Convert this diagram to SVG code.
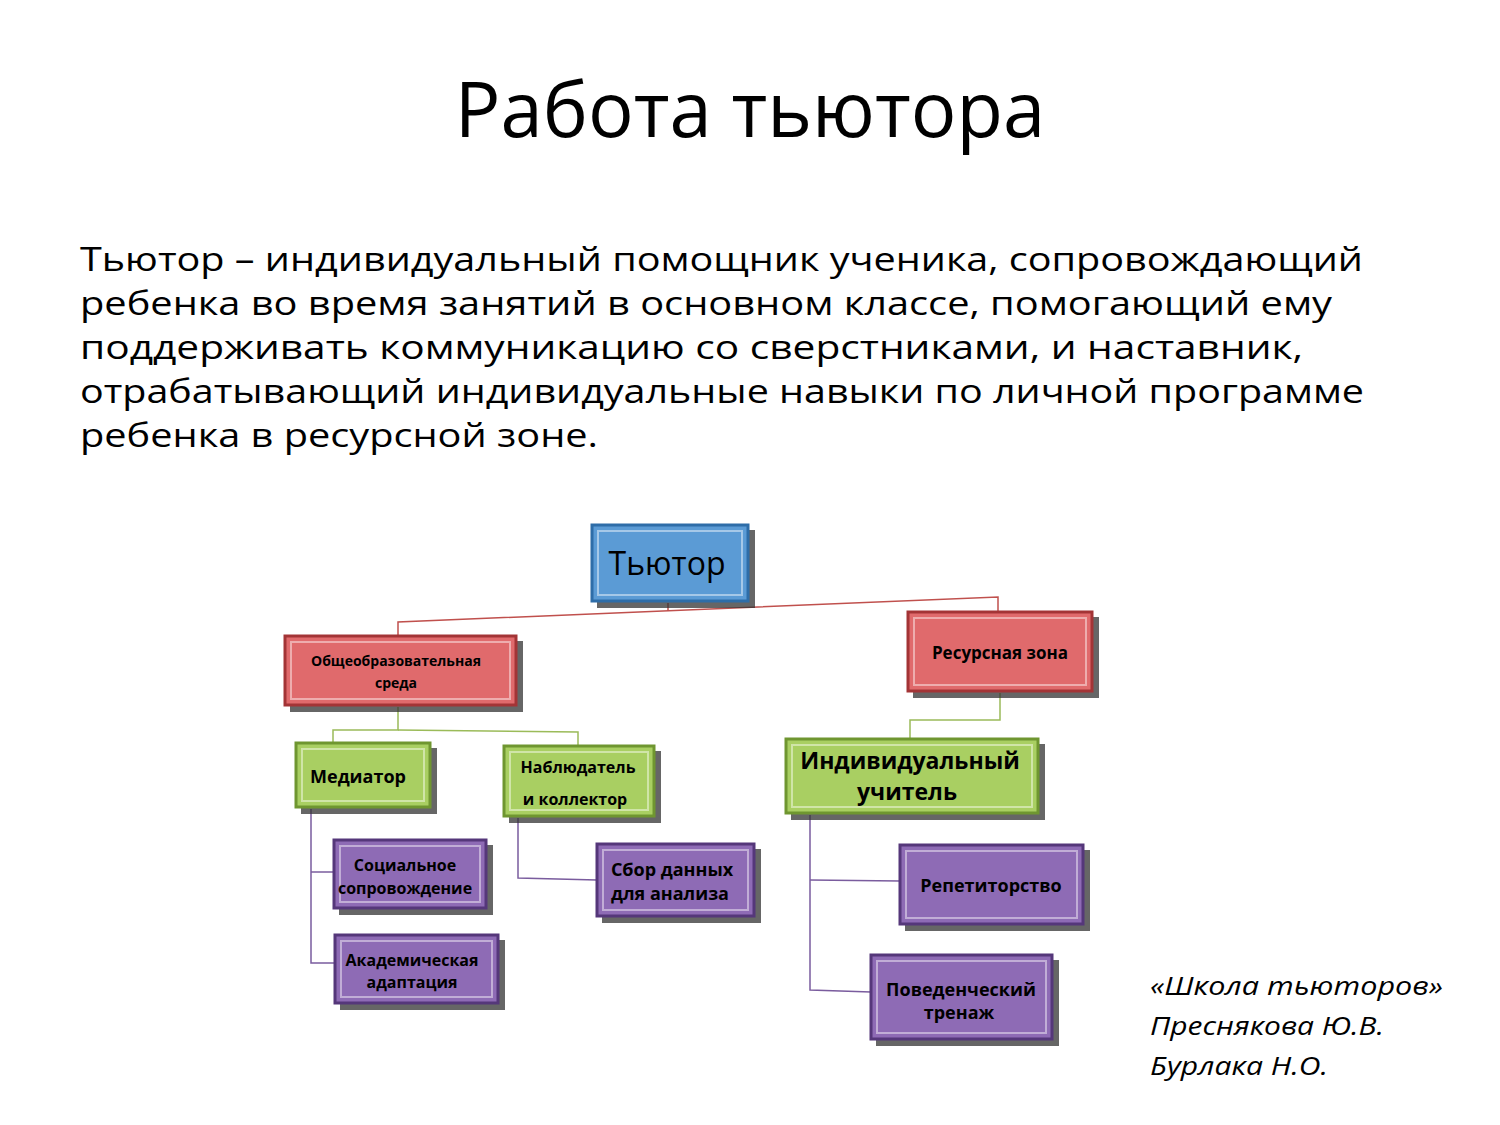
<svg xmlns="http://www.w3.org/2000/svg" width="1500" height="1125" viewBox="0 0 1500 1125">
<style>
text{font-family:"Open Sans","Liberation Sans",sans-serif;fill:#000}
.b{font-weight:bold;text-anchor:middle}
.sh{fill:#333;opacity:.75}
.in{fill:none;stroke:#fff;stroke-opacity:.45;stroke-width:2}
.blue{fill:#5B9BD5;stroke:#2E6DA8;stroke-width:3}
.red{fill:#E06A6C;stroke:#A33436;stroke-width:3}
.green{fill:#A9CF62;stroke:#6F9630;stroke-width:3}
.purple{fill:#8E6BB5;stroke:#55377A;stroke-width:3}
.c{fill:none;stroke-width:1.5}
</style>
<rect width="1500" height="1125" fill="#fff"/>
<text x="750" y="137" font-size="76" text-anchor="middle">Работа тьютора</text>
<g font-size="33">
<text x="80" y="271" textLength="1283" lengthAdjust="spacingAndGlyphs">Тьютор – индивидуальный помощник ученика, сопровождающий</text>
<text x="80" y="315" textLength="1252" lengthAdjust="spacingAndGlyphs">ребенка во время занятий в основном классе, помогающий ему</text>
<text x="80" y="359" textLength="1223" lengthAdjust="spacingAndGlyphs">поддерживать коммуникацию  со сверстниками, и наставник,</text>
<text x="80" y="403" textLength="1284" lengthAdjust="spacingAndGlyphs">отрабатывающий индивидуальные навыки по личной программе</text>
<text x="80" y="447" textLength="518" lengthAdjust="spacingAndGlyphs">ребенка в ресурсной зоне.</text>
</g>
<g id="connectors">
<polyline class="c" stroke="#C0504D" points="668,603 668,611"/>
<polyline class="c" stroke="#C0504D" points="398,636 398,622 998,597 998,612"/>
<polyline class="c" stroke="#9BBB59" points="398,707 398,730 333,730 333,743"/>
<polyline class="c" stroke="#9BBB59" points="398,730 578,732 578,746"/>
<polyline class="c" stroke="#9BBB59" points="1000,693 1000,720 910,720 910,739"/>
<polyline class="c" stroke="#7A5C9E" points="311,809 311,963 334,963"/>
<line class="c" stroke="#7A5C9E" x1="311" y1="872" x2="334" y2="872"/>
<polyline class="c" stroke="#7A5C9E" points="518,818 518,878 597,880"/>
<polyline class="c" stroke="#7A5C9E" points="810,815 810,990 871,992"/>
<line class="c" stroke="#7A5C9E" x1="810" y1="880" x2="900" y2="881"/>
</g>
<g id="n1"><rect class="sh" x="597" y="530" width="158" height="78"/><rect class="blue" x="592" y="525" width="156" height="76"/><rect class="in" x="598" y="531" width="144" height="64"/><text x="667" y="575" font-size="32" text-anchor="middle">Тьютор</text></g>
<g id="n2"><rect class="sh" x="290" y="641" width="233" height="71"/><rect class="red" x="285" y="636" width="231" height="69"/><rect class="in" x="291" y="642" width="219" height="57"/><text class="b" x="396" y="666" font-size="14">Общеобразовательная</text><text class="b" x="396" y="688" font-size="14">среда</text></g>
<g id="n3"><rect class="sh" x="913" y="617" width="186" height="81"/><rect class="red" x="908" y="612" width="184" height="79"/><rect class="in" x="914" y="618" width="172" height="67"/><text class="b" x="1000" y="659" font-size="17">Ресурсная зона</text></g>
<g id="n4"><rect class="sh" x="301" y="748" width="136" height="66"/><rect class="green" x="296" y="743" width="134" height="64"/><rect class="in" x="302" y="749" width="122" height="52"/><text class="b" x="358" y="783" font-size="18">Медиатор</text></g>
<g id="n5"><rect class="sh" x="509" y="751" width="152" height="72"/><rect class="green" x="504" y="746" width="150" height="70"/><rect class="in" x="510" y="752" width="138" height="58"/><text class="b" x="578" y="773" font-size="16">Наблюдатель</text><text class="b" x="575" y="805" font-size="16">и коллектор</text></g>
<g id="n6"><rect class="sh" x="791" y="744" width="254" height="76"/><rect class="green" x="786" y="739" width="252" height="74"/><rect class="in" x="792" y="745" width="240" height="62"/><text class="b" x="910" y="769" font-size="23">Индивидуальный</text><text class="b" x="907" y="800" font-size="23">учитель</text></g>
<g id="n7"><rect class="sh" x="339" y="845" width="154" height="70"/><rect class="purple" x="334" y="840" width="152" height="68"/><rect class="in" x="340" y="846" width="140" height="56"/><text class="b" x="405" y="871" font-size="16">Социальное</text><text class="b" x="405" y="894" font-size="16">сопровождение</text></g>
<g id="n8"><rect class="sh" x="340" y="940" width="165" height="70"/><rect class="purple" x="335" y="935" width="163" height="68"/><rect class="in" x="341" y="941" width="151" height="56"/><text class="b" x="412" y="966" font-size="16">Академическая</text><text class="b" x="412" y="988" font-size="16">адаптация</text></g>
<g id="n9"><rect class="sh" x="602" y="849" width="159" height="74"/><rect class="purple" x="597" y="844" width="157" height="72"/><rect class="in" x="603" y="850" width="145" height="60"/><text class="b" x="672" y="876" font-size="18">Сбор данных</text><text class="b" x="670" y="900" font-size="18">для анализа</text></g>
<g id="n10"><rect class="sh" x="905" y="850" width="185" height="81"/><rect class="purple" x="900" y="845" width="183" height="79"/><rect class="in" x="906" y="851" width="171" height="67"/><text class="b" x="991" y="892" font-size="18">Репетиторство</text></g>
<g id="n11"><rect class="sh" x="876" y="960" width="183" height="86"/><rect class="purple" x="871" y="955" width="181" height="84"/><rect class="in" x="877" y="961" width="169" height="72"/><text class="b" x="961" y="996" font-size="18">Поведенческий</text><text class="b" x="959" y="1019" font-size="18">тренаж</text></g>
<g font-size="26" font-style="italic">
<text x="1150" y="995" textLength="293" lengthAdjust="spacingAndGlyphs">«Школа тьюторов»</text>
<text x="1150" y="1035" textLength="234" lengthAdjust="spacingAndGlyphs">Преснякова Ю.В.</text>
<text x="1150" y="1075" textLength="178" lengthAdjust="spacingAndGlyphs">Бурлака Н.О.</text>
</g>
</svg>
